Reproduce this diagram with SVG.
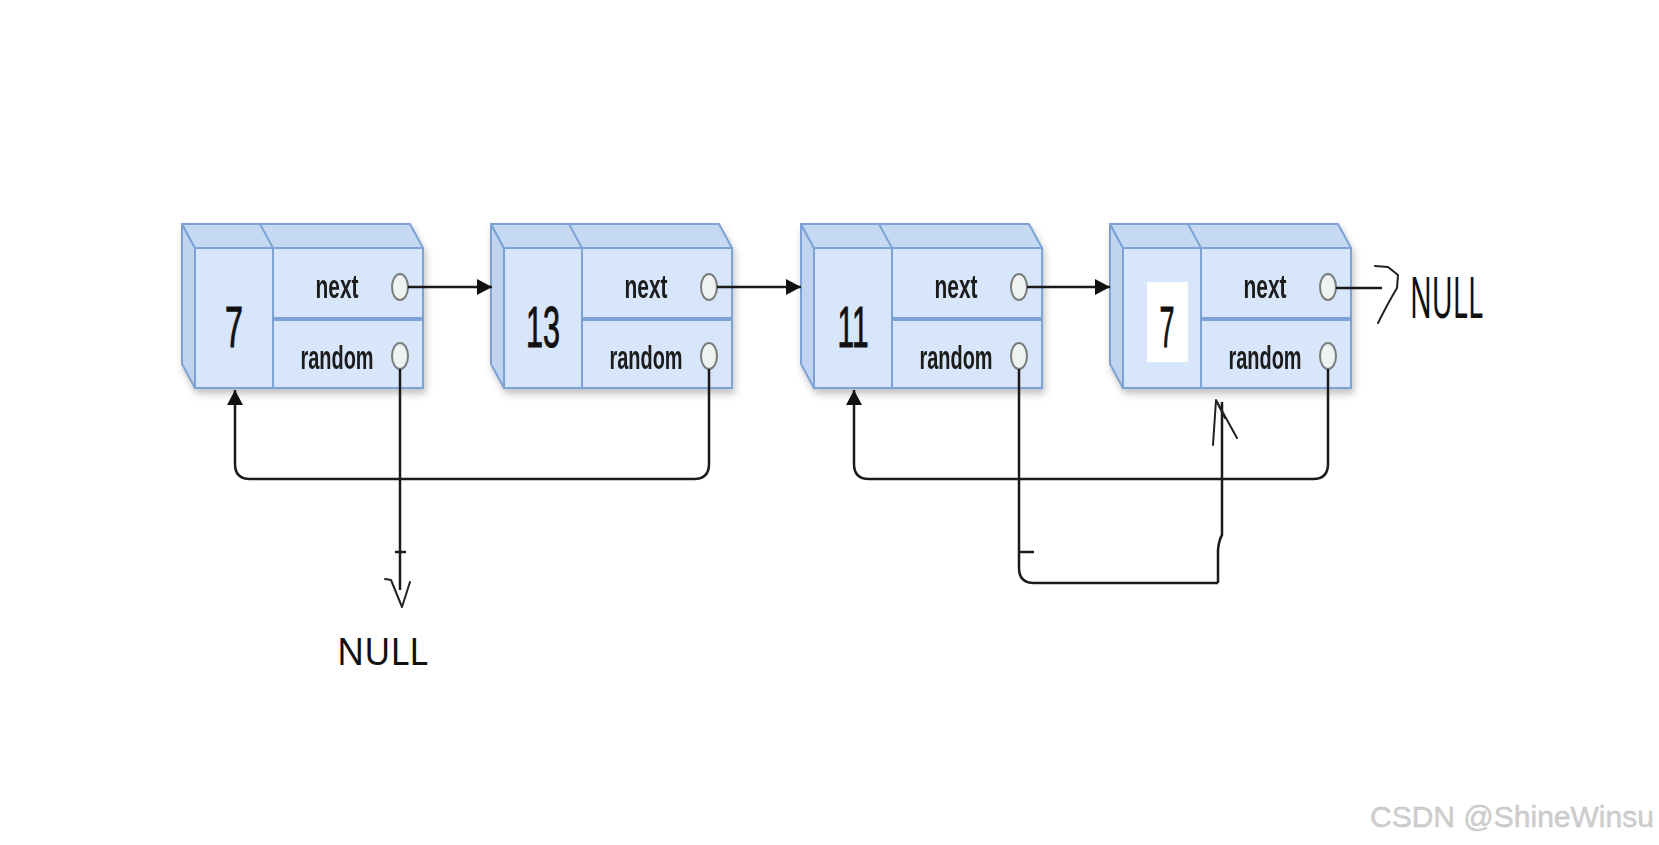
<svg xmlns="http://www.w3.org/2000/svg" width="1659" height="845" viewBox="0 0 1659 845">
<style>
.front{fill:#d7e6fa;stroke:#7da2d6;stroke-width:2}
.top{fill:#c6d9f3;stroke:#7da2d6;stroke-width:2;stroke-linejoin:round}
.side{fill:#c0d4ef;stroke:#7da2d6;stroke-width:2;stroke-linejoin:round}
.div{stroke:#7da2d6;stroke-width:2;fill:none}
.hdiv{stroke:#7da2d6;stroke-width:4;fill:none}
.port{fill:#eef2f1;stroke:#7a7a7a;stroke-width:2}
.lbl{font-family:"Liberation Sans",Arial,sans-serif;font-size:34px;font-weight:bold;fill:#1a1a1a;text-anchor:middle}
.num{font-family:"Liberation Sans",Arial,sans-serif;font-size:58px;fill:#111;stroke:#111;stroke-width:1;text-anchor:middle}
.wire{fill:none;stroke:#1a1a1a;stroke-width:2.5}
.hand{fill:none;stroke:#222;stroke-width:2;stroke-linecap:round;stroke-linejoin:round}
.nulltxt{font-family:"Noto Sans","Open Sans",sans-serif;fill:#111}
</style>
<defs>
<filter id="sh" x="-10%" y="-10%" width="130%" height="140%">
<feDropShadow dx="2" dy="5" stdDeviation="3.5" flood-color="#555" flood-opacity="0.35"/>
</filter>
<marker id="arr" markerUnits="userSpaceOnUse" markerWidth="18" markerHeight="18" refX="15" refY="8" orient="auto">
<path d="M0,0 L15,8 L0,16 Z" fill="#111"/>
</marker>
<g id="box">
<polygon class="side" points="0,0 13,24 13,164 0,140"/>
<polygon class="top" points="0,0 228,0 241,24 13,24"/>
<line class="div" x1="78" y1="0" x2="91" y2="24"/>
<rect class="front" x="13" y="24" width="228" height="140"/>
<line class="div" x1="91" y1="24" x2="91" y2="164"/>
<line class="hdiv" x1="91" y1="95" x2="241" y2="95"/>
<text class="lbl" x="155" y="74" textLength="43" lengthAdjust="spacingAndGlyphs">next</text>
<text class="lbl" x="155" y="145" textLength="73" lengthAdjust="spacingAndGlyphs">random</text>
<ellipse class="port" cx="218" cy="63" rx="8" ry="13"/>
<ellipse class="port" cx="218" cy="132" rx="8" ry="13"/>
</g>
</defs>
<rect width="1659" height="845" fill="#ffffff"/>

<g id="node1" transform="translate(182,224)">
<use href="#box" filter="url(#sh)"/>
<text class="num" x="52" y="123" textLength="18" lengthAdjust="spacingAndGlyphs">7</text>
</g>
<g id="node2" transform="translate(491,224)">
<use href="#box" filter="url(#sh)"/>
<text class="num" x="52" y="123" textLength="34" lengthAdjust="spacingAndGlyphs">13</text>
</g>
<g id="node3" transform="translate(801,224)">
<use href="#box" filter="url(#sh)"/>
<text class="num" x="52" y="123" textLength="31" lengthAdjust="spacingAndGlyphs">11</text>
</g>
<g id="node4" transform="translate(1110,224)">
<use href="#box" filter="url(#sh)"/>
<rect x="37" y="58" width="41" height="80" fill="#ffffff"/>
<text class="num" x="57" y="123" textLength="15" lengthAdjust="spacingAndGlyphs">7</text>
</g>

<g id="connectors">
<line class="wire" x1="408" y1="287" x2="492" y2="287" marker-end="url(#arr)"/>
<line class="wire" x1="717" y1="287" x2="801" y2="287" marker-end="url(#arr)"/>
<line class="wire" x1="1027" y1="287" x2="1110" y2="287" marker-end="url(#arr)"/>
<line class="wire" x1="1336" y1="288" x2="1382" y2="288"/>
<path class="hand" d="M1375,266 L1388,267 L1398,275 L1397,288 Q1388,303 1378,323"/>

<path class="wire" d="M709,369 V464 Q709,479 694,479 H250 Q235,479 235,464 V390" marker-end="url(#arr)"/>
<path class="wire" d="M1328,369 V464 Q1328,479 1313,479 H869 Q854,479 854,464 V390" marker-end="url(#arr)"/>

<path class="wire" d="M400,369 V590"/>
<line class="wire" x1="395" y1="552" x2="406" y2="552"/>
<path class="hand" d="M385,579 L391,580 L402,607 L410,582"/>

<path class="wire" d="M1019,369 V568 Q1019,583 1034,583 H1218"/>
<line class="wire" x1="1019" y1="552" x2="1034" y2="552"/>
<path class="wire" d="M1218,583 L1218,550 Q1219,540 1222,535 L1222,402"/>
<path class="hand" d="M1213,445 L1216,400 L1237,438"/>
<path class="hand" d="M1217,402 L1225,418"/>
</g>

<text class="nulltxt" x="1410" y="318" font-size="56" textLength="73" lengthAdjust="spacingAndGlyphs">NULL</text>
<text class="nulltxt" x="337" y="665" font-size="39" textLength="91" lengthAdjust="spacingAndGlyphs">NULL</text>
<text x="1370" y="827" font-family="Liberation Sans,Arial,sans-serif" font-size="30" fill="#cfcfcf" stroke="#bdbdbd" stroke-width="0.4">CSDN @ShineWinsu</text>
</svg>
